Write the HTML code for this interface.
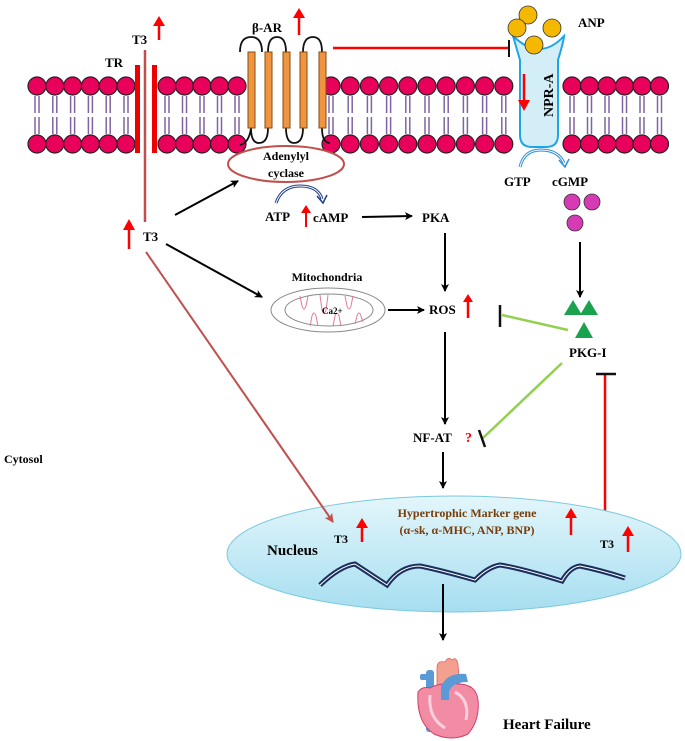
<!DOCTYPE html>
<html><head><meta charset="utf-8"><style>
body{margin:0;background:#fff}
svg{display:block}
text{font-family:"Liberation Serif",serif;font-weight:bold}
</style></head><body>
<svg width="685" height="741" viewBox="0 0 685 741" xmlns="http://www.w3.org/2000/svg" xmlns:xlink="http://www.w3.org/1999/xlink">
<defs>
<marker id="ab" markerWidth="8" markerHeight="8" refX="7" refY="4" orient="auto" markerUnits="userSpaceOnUse"><path d="M0,0 L8,4 L0,8 L2,4z" fill="#000"/></marker>
<marker id="ar" markerWidth="9" markerHeight="9" refX="8" refY="4.5" orient="auto" markerUnits="userSpaceOnUse"><path d="M0,0 L9,4.5 L0,9 L2,4.5z" fill="#c0504d"/></marker>
<linearGradient id="ng" x1="0" y1="0" x2="0" y2="1"><stop offset="0" stop-color="#e3f6fb"/><stop offset="1" stop-color="#a6def0"/></linearGradient>
<g id="u">
<path d="M-2,96 L-2,113 M2,96 L2,113 M-2,117 L-2,134 M2,117 L2,134" stroke="#8064a2" stroke-width="1.5"/>
<circle cx="0" cy="86" r="9" fill="#e8005a" stroke="#222" stroke-width="1.2"/>
<circle cx="0" cy="144" r="9" fill="#e8005a" stroke="#222" stroke-width="1.2"/>
</g>
</defs>

<!-- membrane -->
<use xlink:href="#u" href="#u" x="37"/><use xlink:href="#u" href="#u" x="54.8"/><use xlink:href="#u" href="#u" x="72.6"/><use xlink:href="#u" href="#u" x="90.4"/><use xlink:href="#u" href="#u" x="108.2"/><use xlink:href="#u" href="#u" x="126"/>
<use xlink:href="#u" href="#u" x="167"/><use xlink:href="#u" href="#u" x="184.5"/><use xlink:href="#u" href="#u" x="202"/><use xlink:href="#u" href="#u" x="219.5"/><use xlink:href="#u" href="#u" x="237"/>
<use xlink:href="#u" href="#u" x="331"/><use xlink:href="#u" href="#u" x="350.2"/><use xlink:href="#u" href="#u" x="369.4"/><use xlink:href="#u" href="#u" x="388.6"/><use xlink:href="#u" href="#u" x="407.8"/><use xlink:href="#u" href="#u" x="427"/><use xlink:href="#u" href="#u" x="446.2"/><use xlink:href="#u" href="#u" x="465.4"/><use xlink:href="#u" href="#u" x="484.6"/><use xlink:href="#u" href="#u" x="503.8"/>
<use xlink:href="#u" href="#u" x="572"/><use xlink:href="#u" href="#u" x="589.5"/><use xlink:href="#u" href="#u" x="607"/><use xlink:href="#u" href="#u" x="624.5"/><use xlink:href="#u" href="#u" x="642"/><use xlink:href="#u" href="#u" x="659.5"/>

<!-- NPR-A -->
<path d="M513,36 Q520,60 520,60 L520,135 Q520,147 532,147 L546,147 Q558,147 558,135 L558,60 Q564,40 564,36 Q540,62 513,36z" fill="#d4eef7" stroke="#1ea5e8" stroke-width="2"/>
<text x="0" y="0" font-size="14" transform="translate(553,117) rotate(-90)">NPR-A</text>
<line x1="524" y1="74" x2="524" y2="104" stroke="#f00" stroke-width="2.5"/><path d="M518,100 L524,111 L530,100z" fill="#f00"/>
<g fill="#f5b800" stroke="#333" stroke-width="0.8">
<circle cx="528" cy="15" r="9"/><circle cx="517" cy="28" r="9"/><circle cx="552" cy="28" r="9"/><circle cx="534" cy="45" r="9"/>
</g>
<text x="578" y="27" font-size="13">ANP</text>

<!-- TR -->
<line x1="145" y1="50" x2="145" y2="222" stroke="#c0504d" stroke-width="2.5"/>
<rect x="135" y="65" width="5" height="88" fill="#e00"/>
<rect x="152" y="65" width="5" height="88" fill="#e00"/>
<text x="105" y="67" font-size="13">TR</text>
<text x="132" y="44" font-size="13">T3</text>
<line x1="159" y1="40" x2="159" y2="24" stroke="#f00" stroke-width="2.5"/><path d="M153,26 L159,16 L165,26z" fill="#f00"/>

<!-- beta-AR -->
<g fill="none" stroke="#111" stroke-width="1.8">
<path d="M240,52 Q240,37 251,37 Q262,37 262,52"/>
<path d="M268,52 Q268,37 277,37 Q286,37 286,52"/>
<path d="M303,52 Q303,37 313,37 Q322,37 322,52"/>
<path d="M251,128 Q251,143 259,143 Q268,143 268,128"/>
<path d="M286,128 Q286,143 294,143 Q303,143 303,128"/>
<path d="M322,128 Q322,143 330,143"/>
<path d="M251,128 Q249,143 240,145"/>
</g>
<g fill="#f0953f" stroke="#8a4a10" stroke-width="1">
<rect x="248" y="52" width="7" height="76"/><rect x="265" y="52" width="7" height="76"/><rect x="283" y="52" width="7" height="76"/><rect x="300" y="52" width="7" height="76"/><rect x="319" y="52" width="7" height="76"/>
</g>
<text x="252" y="32" font-size="13">β-AR</text>
<line x1="299" y1="35" x2="299" y2="16" stroke="#f00" stroke-width="2.5"/><path d="M293,18 L299,8 L305,18z" fill="#f00"/>
<line x1="333" y1="48" x2="509" y2="48" stroke="#f00" stroke-width="2.5"/>
<line x1="509" y1="40" x2="509" y2="57" stroke="#111" stroke-width="2"/>

<!-- adenylyl cyclase -->
<ellipse cx="286" cy="164" rx="58" ry="18" fill="#fff" stroke="#c0504d" stroke-width="2"/>
<text x="286" y="160" font-size="12" text-anchor="middle">Adenylyl</text>
<text x="286" y="177" font-size="12" text-anchor="middle">cyclase</text>
<path d="M276,203 Q282,186 300,186 Q318,186 322,199" fill="none" stroke="#1f3e8a" stroke-width="3"/>
<path d="M276,203 Q282,186 300,186 Q318,186 322,199" fill="none" stroke="#fff" stroke-width="1"/>
<path d="M317,196 L323,203 L327,195" fill="none" stroke="#1f3e8a" stroke-width="1.5"/>
<text x="265" y="221" font-size="13">ATP</text>
<line x1="306" y1="227" x2="306" y2="212" stroke="#f00" stroke-width="2"/><path d="M301,213 L306,205 L311,213z" fill="#f00"/>
<text x="313" y="222" font-size="13">cAMP</text>
<line x1="362" y1="217" x2="412" y2="216" stroke="#000" stroke-width="2" marker-end="url(#ab)"/>
<text x="422" y="222" font-size="13">PKA</text>

<!-- GTP/cGMP -->
<path d="M520,167 Q524,150 541,150 Q558,150 564,163" fill="none" stroke="#2e8fd8" stroke-width="3"/>
<path d="M520,167 Q524,150 541,150 Q558,150 564,163" fill="none" stroke="#fff" stroke-width="1"/>
<path d="M559,160 L565,167 L569,159" fill="none" stroke="#2e8fd8" stroke-width="1.5"/>
<text x="504" y="186" font-size="13">GTP</text>
<text x="552" y="186" font-size="13">cGMP</text>
<g fill="#d63bb5" stroke="#333" stroke-width="0.8">
<circle cx="572" cy="202" r="8"/><circle cx="592" cy="202" r="8"/><circle cx="575" cy="223" r="8"/>
</g>

<!-- T3 lower -->
<line x1="129" y1="249" x2="129" y2="228" stroke="#f00" stroke-width="2.5"/><path d="M123,230 L129,219 L135,230z" fill="#f00"/>
<text x="143" y="241" font-size="13">T3</text>
<line x1="175" y1="215" x2="238" y2="181" stroke="#000" stroke-width="2" marker-end="url(#ab)"/>
<line x1="166" y1="244" x2="262" y2="297" stroke="#000" stroke-width="2" marker-end="url(#ab)"/>

<!-- mitochondria -->
<text x="327" y="281" font-size="12" text-anchor="middle">Mitochondria</text>
<ellipse cx="328" cy="310" rx="57" ry="22" fill="#fff" stroke="#888" stroke-width="1"/>
<ellipse cx="329" cy="310" rx="44" ry="16" fill="#fff" stroke="#888" stroke-width="1"/>
<path d="M300,296 L302,306 Q304,312 306,306 L308,296 M320,295 L322,310 Q324,316 326,310 L328,295 M345,296 L347,306 Q349,312 351,306 L353,296 M310,326 L312,316 Q314,310 316,316 L318,326 M333,326 L335,316 Q337,310 339,316 L341,326 M355,324 L357,316 Q359,310 361,316 L363,322" fill="none" stroke="#e07ba0" stroke-width="1"/>
<text x="322" y="314" font-size="9">Ca2+</text>
<line x1="388" y1="310" x2="424" y2="310" stroke="#000" stroke-width="2" marker-end="url(#ab)"/>

<!-- ROS -->
<line x1="445" y1="233" x2="445" y2="291" stroke="#000" stroke-width="2" marker-end="url(#ab)"/>
<text x="429" y="314" font-size="13">ROS</text>
<line x1="468" y1="318" x2="468" y2="301" stroke="#f00" stroke-width="2.5"/><path d="M463,302 L468,294 L473,302z" fill="#f00"/>
<line x1="445" y1="332" x2="445" y2="424" stroke="#000" stroke-width="2" marker-end="url(#ab)"/>

<!-- PKG -->
<line x1="580" y1="242" x2="580" y2="297" stroke="#000" stroke-width="2" marker-end="url(#ab)"/>
<g fill="#1aa24e"><path d="M564,315 L573,300 L582,315z"/><path d="M580,315 L589,300 L598,315z"/><path d="M575,338 L584,322 L593,338z"/></g>
<text x="569" y="357" font-size="13">PKG-I</text>
<line x1="568" y1="330" x2="502" y2="315" stroke="#92d050" stroke-width="2.5"/>
<line x1="500" y1="305" x2="500" y2="327" stroke="#111" stroke-width="2.5"/>
<line x1="562" y1="363" x2="483" y2="438" stroke="#92d050" stroke-width="2.5"/>
<line x1="479" y1="430" x2="485" y2="447" stroke="#111" stroke-width="2.5"/>
<text x="413" y="442" font-size="13">NF-AT</text>
<text x="465" y="442" font-size="14" fill="#f00">?</text>
<line x1="443" y1="452" x2="443" y2="488" stroke="#000" stroke-width="2" marker-end="url(#ab)"/>

<!-- red T from nucleus -->
<line x1="605" y1="528" x2="605" y2="375" stroke="#f00" stroke-width="2.5"/>
<line x1="596" y1="374" x2="616" y2="374" stroke="#111" stroke-width="2.5"/>

<text x="4" y="463" font-size="12">Cytosol</text>

<!-- nucleus -->
<ellipse cx="454" cy="554" rx="227" ry="58" fill="url(#ng)" stroke="#7cc8e0" stroke-width="1"/>
<line x1="146" y1="252" x2="333" y2="522" stroke="#c0504d" stroke-width="2" marker-end="url(#ar)"/>
<text x="467" y="517" font-size="12" text-anchor="middle" fill="#7a3d0a">Hypertrophic Marker gene</text>
<text x="467" y="534" font-size="12" text-anchor="middle" fill="#7a3d0a">(α-sk, α-MHC, ANP, BNP)</text>
<text x="334" y="543" font-size="12">T3</text>
<text x="600" y="548" font-size="12">T3</text>
<text x="267" y="555" font-size="15">Nucleus</text>
<g stroke="#f00" stroke-width="2.5"><line x1="362" y1="542" x2="362" y2="526"/><line x1="571" y1="535" x2="571" y2="516"/><line x1="628" y1="552" x2="628" y2="534"/></g>
<g fill="#f00"><path d="M356,528 L362,518 L368,528z"/><path d="M565,518 L571,508 L577,518z"/><path d="M622,536 L628,526 L634,536z"/></g>
<path d="M320,585 Q340,566 355,564 L387,585 Q400,566 420,566 Q440,570 475,580 Q488,567 500,565 Q520,568 562,581 Q570,567 580,566 Q600,570 625,578" fill="none" stroke="#1a2f5e" stroke-width="5"/>
<path d="M320,585 Q340,566 355,564 L387,585 Q400,566 420,566 Q440,570 475,580 Q488,567 500,565 Q520,568 562,581 Q570,567 580,566 Q600,570 625,578" fill="none" stroke="#fff" stroke-width="1"/>
<line x1="443" y1="584" x2="443" y2="640" stroke="#000" stroke-width="2" marker-end="url(#ab)"/>

<!-- heart -->
<g>
<path d="M437,690 L437,668 Q437,660 445,662 Q448,656 452,660 Q456,656 458,664 L460,690z" fill="#f4a08f" stroke="#d66" stroke-width="0.8"/>
<rect x="426" y="670" width="8" height="62" rx="3" fill="#5b9bd5"/>
<rect x="420" y="674" width="12" height="6" rx="2" fill="#5b9bd5"/>
<path d="M418,692 Q416,722 434,734 Q452,742 468,734 Q480,720 478,700 Q476,684 458,684 Q440,682 430,688 Q422,686 418,692z" fill="#f28ca5" stroke="#d0406a" stroke-width="1"/>
<path d="M430,695 Q428,718 445,728 M455,692 Q470,700 466,720" stroke="#fbd0dc" stroke-width="3" fill="none"/>
<path d="M441,700 L441,686 Q448,672 466,674 L468,682 Q452,682 449,692 L449,700z" fill="#5b9bd5"/>
</g>
<text x="503" y="729" font-size="15">Heart Failure</text>
</svg>
</body></html>
